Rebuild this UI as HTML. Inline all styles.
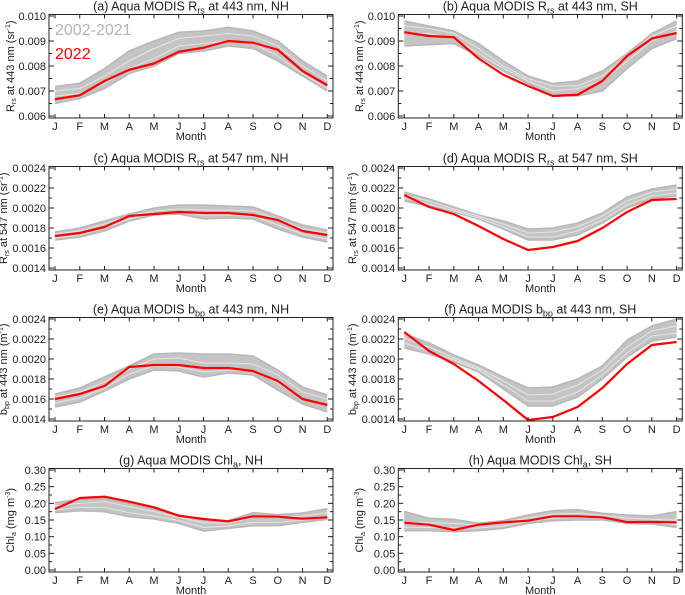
<!DOCTYPE html>
<html><head><meta charset="utf-8">
<style>
html,body{margin:0;padding:0;background:#fff;}
svg{display:block;font-family:"Liberation Sans",Arial,sans-serif;}
</style></head>
<body>
<svg id="fig" width="685" height="595" viewBox="0 0 685 595" xmlns="http://www.w3.org/2000/svg"></svg>
<script>
const months = ["J","F","M","A","M","J","J","A","S","O","N","D"];

const ticksRrs443 = ["0.006","0.007","0.008","0.009","0.010"];
const ticksSmall = ["0.0014","0.0016","0.0018","0.0020","0.0022","0.0024"];
const ticksChl = ["0.00","0.05","0.10","0.15","0.20","0.25","0.30"];

const redA = [0.00667,0.00683,0.0074,0.00785,0.0081,0.00857,0.00873,0.0090,0.00893,0.00865,0.0078,0.00723];
const hiA  = [0.00718,0.00731,0.0079,0.0086,0.0090,0.00935,0.0094,0.00955,0.0094,0.0090,0.0082,0.0076];
const loA  = [0.0065,0.0067,0.0071,0.0077,0.0080,0.0085,0.0086,0.0088,0.0087,0.0082,0.0076,0.0070];
const m1A  = [0.0070,0.0071,0.0076,0.0082,0.0087,0.0091,0.0092,0.0093,0.0092,0.0088,0.0080,0.0074];
const m2A  = [0.0068,0.0069,0.0073,0.0079,0.0083,0.0088,0.0089,0.0090,0.0089,0.0084,0.0077,0.0071];

const redB = [0.00935,0.0092,0.00915,0.0083,0.00765,0.0072,0.0068,0.00685,0.0074,0.0084,0.0091,0.00932];
const hiB  = [0.0098,0.0096,0.0094,0.0089,0.0082,0.0076,0.0073,0.0074,0.0078,0.0085,0.0093,0.0098];
const loB  = [0.0088,0.00885,0.0089,0.0084,0.0078,0.0073,0.0068,0.0068,0.0070,0.0079,0.0087,0.0091];
const m1B  = [0.0096,0.0095,0.0093,0.0087,0.0080,0.0075,0.0072,0.0072,0.0076,0.0084,0.0092,0.0096];
const m2B  = [0.0093,0.0093,0.0091,0.0085,0.0079,0.0074,0.0070,0.0071,0.0074,0.0082,0.0090,0.0094];

const redC = [0.00172,0.00175,0.00181,0.00192,0.00194,0.00196,0.00195,0.00195,0.00193,0.00188,0.00177,0.00173];
const hiC  = [0.00176,0.00180,0.00187,0.00194,0.00200,0.00203,0.00203,0.00202,0.00201,0.00192,0.00183,0.00178];
const loC  = [0.00168,0.00171,0.00177,0.00187,0.00193,0.00194,0.00189,0.00190,0.00189,0.00179,0.00171,0.00166];
const m1C  = [0.00174,0.00177,0.00184,0.00192,0.00197,0.00199,0.00198,0.00198,0.00197,0.00189,0.00179,0.00175];
const m2C  = [0.00170,0.00173,0.00180,0.00189,0.00195,0.00196,0.00193,0.00193,0.00192,0.00183,0.00174,0.00169];

const redD = [0.00213,0.00201,0.00194,0.00182,0.00169,0.00158,0.00161,0.00167,0.00180,0.00196,0.00208,0.00209];
const hiD  = [0.00216,0.00209,0.00201,0.00193,0.00187,0.00179,0.00180,0.00185,0.00195,0.00211,0.00219,0.00223];
const loD  = [0.00207,0.00202,0.00196,0.00189,0.00179,0.00168,0.00168,0.00173,0.00185,0.00200,0.00209,0.00212];
const m1D  = [0.00213,0.00207,0.00199,0.00192,0.00184,0.00175,0.00176,0.00181,0.00192,0.00207,0.00216,0.00219];
const m2D  = [0.00210,0.00204,0.00197,0.00190,0.00181,0.00171,0.00171,0.00177,0.00188,0.00203,0.00212,0.00215];

const redE = [0.00160,0.00165,0.00173,0.00192,0.00194,0.00194,0.00191,0.00191,0.00188,0.00178,0.00160,0.00154];
const hiE  = [0.00165,0.00171,0.00182,0.00193,0.00205,0.00206,0.00205,0.00205,0.00203,0.00189,0.00172,0.00164];
const loE  = [0.00152,0.00157,0.00168,0.00180,0.00189,0.00188,0.00182,0.00186,0.00184,0.00169,0.00155,0.00147];
const m1E  = [0.00162,0.00167,0.00177,0.00190,0.00200,0.00201,0.00196,0.00196,0.00195,0.00184,0.00167,0.00160];
const m2E  = [0.00156,0.00161,0.00171,0.00185,0.00193,0.00192,0.00187,0.00189,0.00188,0.00176,0.00160,0.00153];

const redF = [0.00227,0.00208,0.00195,0.00178,0.00159,0.00139,0.00142,0.00152,0.00171,0.00195,0.00214,0.00217];
const hiF  = [0.00225,0.00216,0.00204,0.00194,0.00182,0.00171,0.00172,0.00180,0.00193,0.00219,0.00233,0.00240];
const loF  = [0.00211,0.00205,0.00197,0.00187,0.00170,0.00153,0.00153,0.00162,0.00180,0.00202,0.00218,0.00222];
const m1F  = [0.00221,0.00212,0.00201,0.00191,0.00178,0.00164,0.00165,0.00174,0.00189,0.00212,0.00228,0.00233];
const m2F  = [0.00216,0.00208,0.00199,0.00189,0.00174,0.00158,0.00158,0.00167,0.00184,0.00206,0.00223,0.00226];

const redG = [0.183,0.216,0.220,0.205,0.188,0.163,0.153,0.146,0.161,0.160,0.154,0.158];
const hiG  = [0.202,0.212,0.214,0.200,0.183,0.165,0.150,0.148,0.172,0.166,0.171,0.184];
const loG  = [0.172,0.178,0.175,0.160,0.153,0.140,0.117,0.125,0.133,0.133,0.143,0.152];
const m1G  = [0.192,0.200,0.205,0.190,0.175,0.158,0.142,0.140,0.158,0.157,0.162,0.172];
const m2G  = [0.180,0.188,0.188,0.172,0.162,0.148,0.128,0.132,0.143,0.143,0.150,0.160];

const redH = [0.142,0.136,0.120,0.136,0.143,0.148,0.161,0.161,0.158,0.144,0.144,0.143];
const hiH  = [0.176,0.155,0.152,0.140,0.148,0.165,0.178,0.181,0.170,0.165,0.162,0.175];
const loH  = [0.118,0.118,0.115,0.118,0.125,0.140,0.148,0.150,0.150,0.140,0.138,0.128];
const m1H  = [0.142,0.142,0.140,0.135,0.142,0.156,0.168,0.170,0.164,0.156,0.152,0.150];
const m2H  = [0.128,0.128,0.126,0.126,0.132,0.146,0.156,0.158,0.156,0.148,0.144,0.136];

const NS = "http://www.w3.org/2000/svg";
const svg = document.getElementById("fig");
function mk(tag, attrs, parent){
  const e = document.createElementNS(NS, tag);
  for (const k in attrs) e.setAttribute(k, attrs[k]);
  (parent||svg).appendChild(e);
  return e;
}

const panels = [
  {id:"a", col:0, row:0, ticks:ticksRrs443, min:0.006, max:0.010, minor:0.0005, red:redA, gray:[hiA,loA,m1A,m2A], title:["(a) Aqua MODIS R","rs"," at 443 nm, NH"], yt:["R","rs"," at 443 nm (sr","-1",")"]},
  {id:"b", col:1, row:0, ticks:ticksRrs443, min:0.006, max:0.010, minor:0.0005, red:redB, gray:[hiB,loB,m1B,m2B], title:["(b) Aqua MODIS R","rs"," at 443 nm, SH"], yt:["R","rs"," at 443 nm (sr","-1",")"]},
  {id:"c", col:0, row:1, ticks:ticksSmall, min:0.0014, max:0.0024, minor:0.0001, red:redC, gray:[hiC,loC,m1C,m2C], title:["(c) Aqua MODIS R","rs"," at 547 nm, NH"], yt:["R","rs"," at 547 nm (sr","-1",")"]},
  {id:"d", col:1, row:1, ticks:ticksSmall, min:0.0014, max:0.0024, minor:0.0001, red:redD, gray:[hiD,loD,m1D,m2D], title:["(d) Aqua MODIS R","rs"," at 547 nm, SH"], yt:["R","rs"," at 547 nm (sr","-1",")"]},
  {id:"e", col:0, row:2, ticks:ticksSmall, min:0.0014, max:0.0024, minor:0.0001, red:redE, gray:[hiE,loE,m1E,m2E], title:["(e) Aqua MODIS b","bp"," at 443 nm, NH"], yt:["b","bp"," at 443 nm (m","-1",")"]},
  {id:"f", col:1, row:2, ticks:ticksSmall, min:0.0014, max:0.0024, minor:0.0001, red:redF, gray:[hiF,loF,m1F,m2F], title:["(f) Aqua MODIS b","bp"," at 443 nm, SH"], yt:["b","bp"," at 443 nm (m","-1",")"]},
  {id:"g", col:0, row:3, ticks:ticksChl, min:0, max:0.30, minor:0.025, red:redG, gray:[hiG,loG,m1G,m2G], title:["(g) Aqua MODIS Chl","a",", NH"], yt:["Chl","a"," (mg m","-3",")"]},
  {id:"h", col:1, row:3, ticks:ticksChl, min:0, max:0.30, minor:0.025, red:redH, gray:[hiH,loH,m1H,m2H], title:["(h) Aqua MODIS Chl","a",", SH"], yt:["Chl","a"," (mg m","-3",")"]},
];
const rowTop = [16, 168, 319, 470];

panels.forEach(p => {
  const dx = p.col ? 349.3 : 0;
  const bx0 = 49 + dx, bx1 = 333 + dx;
  const ty = rowTop[p.row], by = ty + 100;
  const by0 = ty - 1.5, by1 = by + 2;
  const xs = i => 55 + dx + i * (272.3 / 11);
  const ys = v => by - (v - p.min) / (p.max - p.min) * (by - ty);
  const g = mk("g", {});
  
  

  const band = p.gray[0].map((v,i)=>xs(i)+","+ys(v)).concat(p.gray[1].map((v,i)=>[i,v]).reverse().map(a=>xs(a[0])+","+ys(a[1]))).join(" ");
  const bp = mk("polygon", {points:band, fill:"#c4c4c4", stroke:"none"}, g);
  
  
  p.gray.forEach((s, k) => {
    const pl = mk("polyline", {points:s.map((v,i)=>xs(i)+","+ys(v)).join(" "), fill:"none", stroke: k>=2 ? "#e4e4e4" : "#b8b8b8", "stroke-width": k>=2 ? 1 : 1.6}, g);
    
    
  });
  const rl = mk("polyline", {points:p.red.map((v,i)=>xs(i)+","+ys(v)).join(" "), fill:"none", stroke:"#ff0000", "stroke-width":2.2, "stroke-linejoin":"round"}, g);
  
  

  const box = mk("rect", {x:bx0, y:by0, width:bx1-bx0, height:by1-by0, fill:"none", stroke:"#222", "stroke-width":1}, g);
  
  

  const nMinor = Math.round((p.max - p.min) / p.minor);
  for (let k=0;k<=nMinor;k++){
    const v = p.min + k*p.minor, y = ys(v);
    const f = ((v - p.min) / (p.max-p.min)) * (p.ticks.length-1);
    const major = Math.abs(f - Math.round(f)) < 1e-6;
    const L = major ? 5 : 3;
    mk("line", {x1:bx0, x2:bx0+L, y1:y, y2:y, stroke:"#222"}, g);
    mk("line", {x1:bx1, x2:bx1-L, y1:y, y2:y, stroke:"#222"}, g);
  }
  p.ticks.forEach((t,k)=>{
    const v = p.min + k*(p.max-p.min)/(p.ticks.length-1);
    const tx = mk("text", {x:bx0-3, y:ys(v)+4, "font-size":11, "text-anchor":"end", fill:"#222"}, g);
    tx.textContent = t;
    
    
  });
  months.forEach((m,i)=>{
    const x = xs(i);
    mk("line", {x1:x, x2:x, y1:by1, y2:by1-4, stroke:"#222"}, g);
    mk("line", {x1:x, x2:x, y1:by0, y2:by0+4, stroke:"#222"}, g);
    const tx = mk("text", {x:x, y:by1+12, "font-size":11, "text-anchor":"middle", fill:"#222"}, g);
    tx.textContent = m;
    
    
  });
  const xt = mk("text", {x:(bx0+bx1)/2, y:by1+22, "font-size":11, "text-anchor":"middle", fill:"#222"}, g);
  xt.textContent = "Month";
  
  

  const tt = mk("text", {x:(bx0+bx1)/2, y:by0-4, "font-size":12.5, "text-anchor":"middle", fill:"#222"}, g);
  
  
  p.title.forEach((s,k)=>{
    const ts = mk("tspan", k===1 ? {"font-size":9, dy:3} : (k===2 ? {dy:-3} : {}), tt);
    ts.textContent = s;
  });
  const wide = (p.row === 1 || p.row === 2);
  const cy = (by0+by1)/2, cx = p.col ? (wide ? 356 : 363) : (wide ? 7 : 14);
  const yt = mk("text", {x:0, y:0, "font-size":11, "text-anchor":"middle", fill:"#222", transform:`translate(${cx},${cy}) rotate(-90)`}, g);
  
  
  p.yt.forEach((s,k)=>{
    const at = k===1 ? {"font-size":7, dy:2} : k===2 ? {dy:-2} : k===3 ? {"font-size":7, dy:-4} : k===4 ? {dy:4} : {};
    const ts = mk("tspan", at, yt);
    ts.textContent = s;
  });

  if (p.id === "a"){
    const l1 = mk("text", {x:55, y:35, "font-size":16, fill:"#b4b4b4"}, g);
    l1.textContent = "2002-2021";
    
    
    const l2 = mk("text", {x:55, y:59, "font-size":16, fill:"#ff0000"}, g);
    l2.textContent = "2022";
    
    
  }
});
</script>
</body></html>
